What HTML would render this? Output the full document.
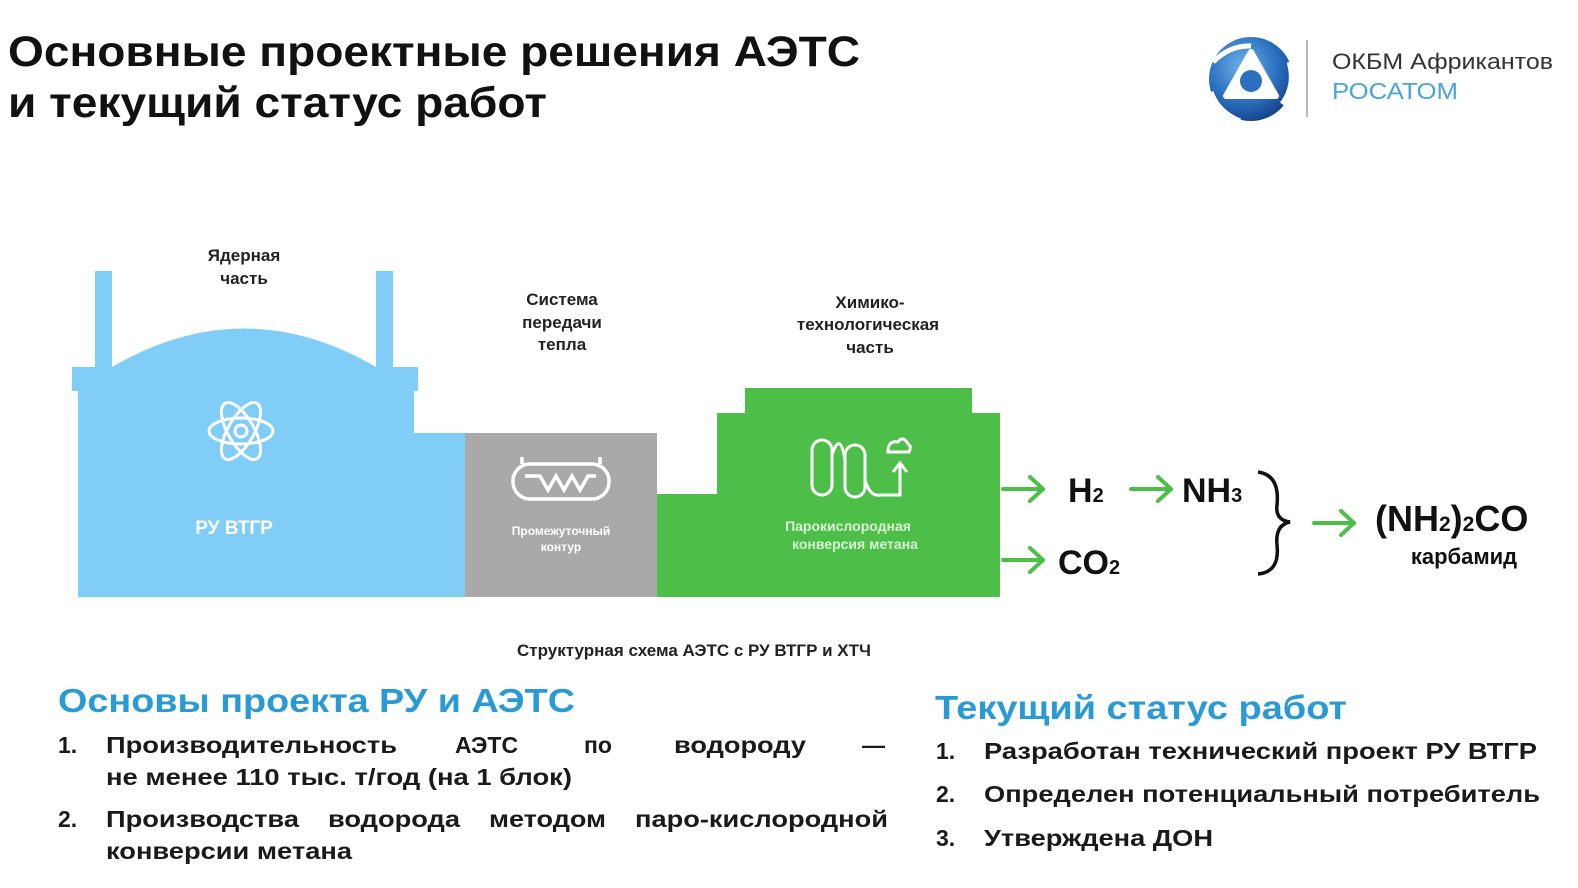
<!DOCTYPE html>
<html><head><meta charset="utf-8"><style>
html,body{margin:0;padding:0;background:#fff;}
svg{display:block;}
text{font-family:"Liberation Sans",sans-serif;}
</style></head><body>
<svg width="1578" height="888" viewBox="0 0 1578 888" xmlns="http://www.w3.org/2000/svg">
<rect width="1578" height="888" fill="#fff"/>
<text x="8" y="66" font-size="43" font-weight="bold" fill="#111" textLength="852" lengthAdjust="spacingAndGlyphs">Основные проектные решения АЭТС</text>
<text x="8" y="117" font-size="43" font-weight="bold" fill="#111" textLength="539" lengthAdjust="spacingAndGlyphs">и текущий статус работ</text>
<defs>
<radialGradient id="lg" cx="0.4" cy="0.35" r="0.7"><stop offset="0" stop-color="#6fb0e8"/><stop offset="0.6" stop-color="#2a6fc0"/><stop offset="1" stop-color="#143f86"/></radialGradient>
</defs>
<circle cx="1251" cy="79" r="42" fill="url(#lg)"/>
<path d="M1251 52 L1276 96 L1226 96 Z" fill="#fff" stroke="#fff" stroke-width="6" stroke-linejoin="round"/>
<circle cx="1251" cy="81" r="11" fill="#2a6fc0"/>
<path d="M1213 62 Q1230 45 1251 46 M1289 62 Q1296 85 1282 104 M1240 121 Q1218 112 1211 92" stroke="#fff" stroke-width="5" fill="none"/>
<line x1="1307" y1="40" x2="1307" y2="117" stroke="#bbb" stroke-width="2"/>
<text x="1332" y="69" font-size="22" fill="#333" textLength="221" lengthAdjust="spacingAndGlyphs">ОКБМ Африкантов</text>
<text x="1332" y="99" font-size="23" fill="#4aa5d6" textLength="126" lengthAdjust="spacingAndGlyphs">РОСАТОМ</text>

<g fill="#80cdf8">
<rect x="95" y="271" width="17" height="100"/>
<rect x="376" y="271" width="17" height="100"/>
<path d="M112 367 Q244 290 376 367 Z"/>
<rect x="72" y="367" width="346" height="24"/>
<rect x="78" y="388" width="336" height="209"/>
<rect x="410" y="433" width="56" height="164"/>
</g>
<g stroke="#fff" stroke-width="3" fill="none" transform="translate(241,431)">
<ellipse rx="32" ry="13"/>
<ellipse rx="32" ry="13" transform="rotate(60)"/>
<ellipse rx="32" ry="13" transform="rotate(-60)"/>
<circle r="6"/>
</g>
<text x="234" y="534" font-size="19" font-weight="bold" fill="#fff" text-anchor="middle">РУ ВТГР</text>
<rect x="465" y="433" width="192" height="164" fill="#a9a9a9"/>
<g stroke="#fff" stroke-width="3.5" fill="none">
<rect x="513" y="464" width="96" height="35" rx="17"/>
<path d="M522 457 L522 464 M600 457 L600 464"/>
<path d="M525 476 L540 476 L548 490 L556 476 L564 490 L572 476 L580 490 L588 476 L596 476"/>
</g>
<text x="561" y="535" font-size="12" font-weight="bold" fill="#fff" text-anchor="middle">Промежуточный</text>
<text x="561" y="551" font-size="12" font-weight="bold" fill="#fff" text-anchor="middle">контур</text>
<g fill="#4dbf48">
<rect x="657" y="494" width="343" height="103"/>
<rect x="717" y="413" width="283" height="184"/>
<rect x="745" y="388" width="227" height="30"/>
</g>
<g stroke="#fff" stroke-width="3" fill="none">
<rect x="812" y="440" width="20" height="55" rx="10"/>
<rect x="845" y="445" width="20" height="52" rx="10"/>
<path d="M832 455 Q840 430 845 460 M865 480 Q870 497 880 495 L900 495 L900 465 M893 472 L900 463 L907 472"/>
<path d="M888 452 Q888 440 898 442 Q903 435 908 444 Q912 446 909 452 Z"/>
</g>
<text x="848" y="531" font-size="14" font-weight="bold" fill="#d8f5d5" text-anchor="middle">Парокислородная</text>
<text x="855" y="549" font-size="14" font-weight="bold" fill="#d8f5d5" text-anchor="middle">конверсия метана</text>

<g font-size="17" font-weight="bold" fill="#222" text-anchor="middle">
<text x="244" y="261">Ядерная</text><text x="244" y="284">часть</text>
<text x="562" y="305">Система</text><text x="562" y="328">передачи</text><text x="562" y="350">тепла</text>
<text x="870" y="308">Химико-</text><text x="868" y="330">технологическая</text><text x="870" y="353">часть</text>
</g>

<g stroke="#4dbf48" stroke-width="4" fill="none" stroke-linecap="round" stroke-linejoin="round">
<path d="M1003 489 L1043 489 M1030 477 L1043 489 L1030 501"/>
<path d="M1003 560 L1043 560 M1030 548 L1043 560 L1030 572"/>
<path d="M1131 489 L1171 489 M1158 477 L1171 489 L1158 501"/>
<path d="M1314 523 L1354 523 M1341 511 L1354 523 L1341 535"/>
</g>
<g font-weight="bold" fill="#111">
<text x="1068" y="502" font-size="34">H<tspan font-size="20">2</tspan></text>
<text x="1182" y="502" font-size="34">NH<tspan font-size="20">3</tspan></text>
<text x="1058" y="574" font-size="34">CO<tspan font-size="20">2</tspan></text>
<text x="1375" y="531" font-size="36">(NH<tspan font-size="21">2</tspan>)<tspan font-size="21">2</tspan>CO</text>
<text x="1464" y="564" font-size="22" text-anchor="middle">карбамид</text>
</g>
<path d="M1258 472 Q1280 475 1277 505 Q1275 520 1290 522 Q1275 525 1277 545 Q1280 572 1258 574" stroke="#111" stroke-width="3.5" fill="none"/>

<text x="694" y="656" font-size="17" font-weight="bold" fill="#222" text-anchor="middle">Структурная схема АЭТС с РУ ВТГР и ХТЧ</text>

<text x="58" y="712" font-size="33" font-weight="bold" fill="#2a9ad6" textLength="517" lengthAdjust="spacingAndGlyphs">Основы проекта РУ и АЭТС</text>
<g font-size="23" font-weight="bold" fill="#1a1a1a">
<text x="58" y="753">1.</text>
<text x="106" y="753" textLength="291" lengthAdjust="spacingAndGlyphs">Производительность</text>
<text x="455" y="753">АЭТС</text>
<text x="584" y="753">по</text>
<text x="674" y="753" textLength="132" lengthAdjust="spacingAndGlyphs">водороду</text>
<text x="862" y="753">—</text>
<text x="106" y="785" textLength="466" lengthAdjust="spacingAndGlyphs">не менее 110 тыс. т/год (на 1 блок)</text>
<text x="58" y="827">2.</text>
<text x="106" y="827" textLength="193" lengthAdjust="spacingAndGlyphs">Производства</text>
<text x="328" y="827" textLength="132" lengthAdjust="spacingAndGlyphs">водорода</text>
<text x="489" y="827" textLength="117" lengthAdjust="spacingAndGlyphs">методом</text>
<text x="635" y="827" textLength="253" lengthAdjust="spacingAndGlyphs">паро-кислородной</text>
<text x="106" y="859" textLength="246" lengthAdjust="spacingAndGlyphs">конверсии метана</text>
</g>
<text x="935" y="719" font-size="33" font-weight="bold" fill="#2a9ad6" textLength="412" lengthAdjust="spacingAndGlyphs">Текущий статус работ</text>
<g font-size="23" font-weight="bold" fill="#1a1a1a">
<text x="936" y="759">1.</text>
<text x="984" y="759" textLength="553" lengthAdjust="spacingAndGlyphs">Разработан технический проект РУ ВТГР</text>
<text x="936" y="802">2.</text>
<text x="984" y="802" textLength="556" lengthAdjust="spacingAndGlyphs">Определен потенциальный потребитель</text>
<text x="936" y="846">3.</text>
<text x="984" y="846" textLength="229" lengthAdjust="spacingAndGlyphs">Утверждена ДОН</text>
</g>
</svg>
</body></html>
